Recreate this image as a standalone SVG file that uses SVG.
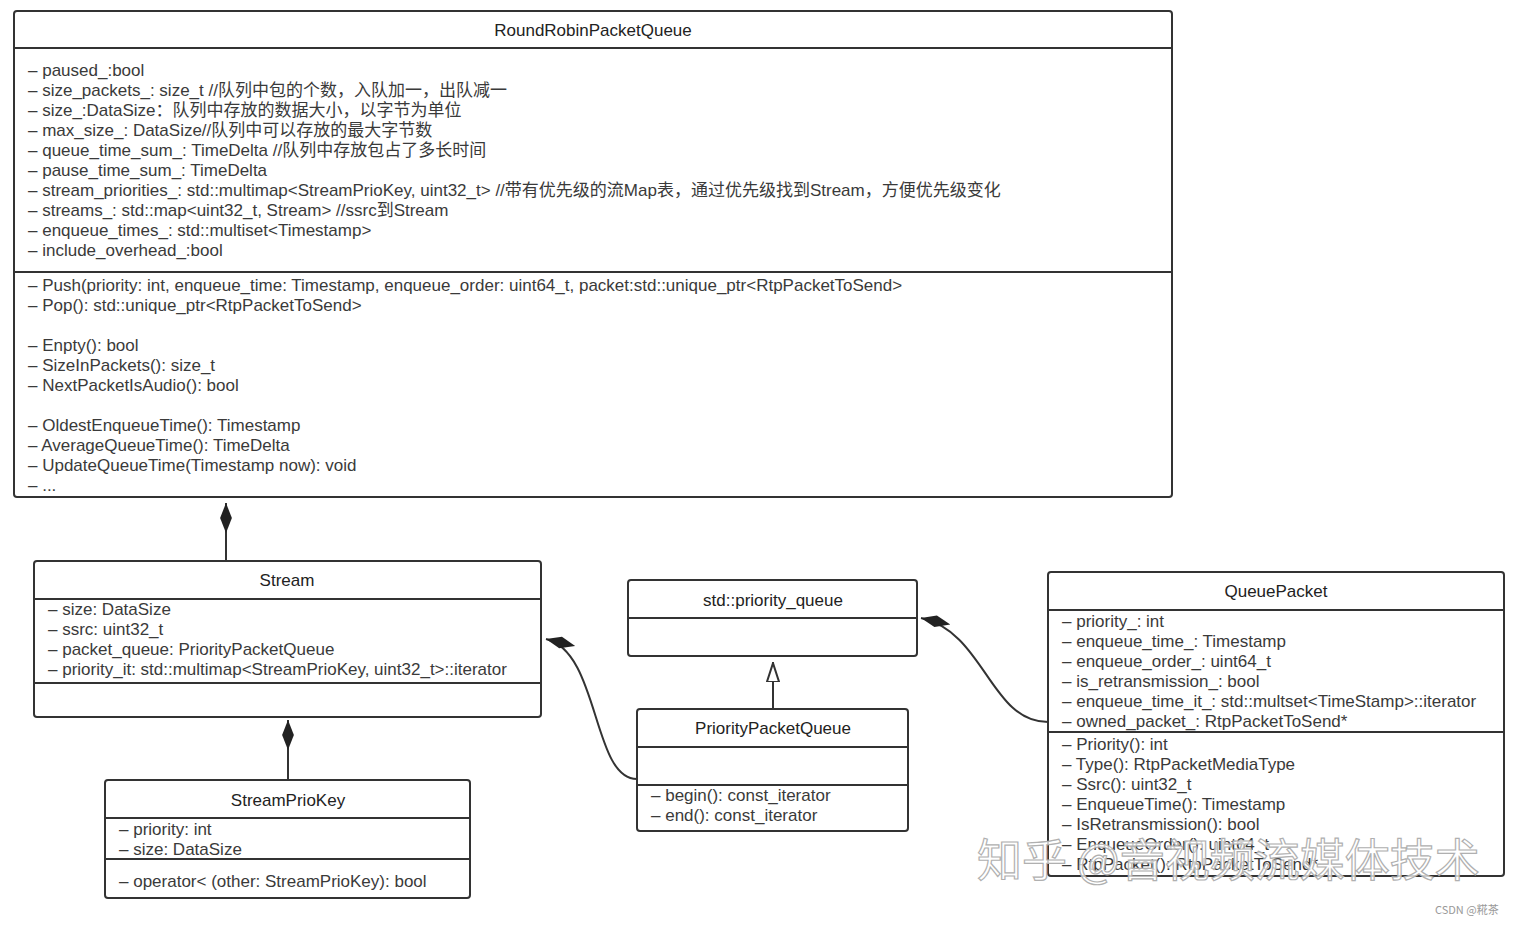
<svg xmlns="http://www.w3.org/2000/svg" width="1518" height="925" viewBox="0 0 1518 925">
<style>
.box{fill:#fff;stroke:#333;stroke-width:2}
.div{stroke:#333;stroke-width:2}
.t{font-family:"Liberation Sans","Noto Sans CJK SC",sans-serif;font-size:17px;fill:#3a3a3a}
.title{font-family:"Liberation Sans","Noto Sans CJK SC",sans-serif;font-size:17px;fill:#222;text-anchor:middle}
.con{fill:none;stroke:#333;stroke-width:2}
</style>
<defs>
<marker id="dia" markerUnits="userSpaceOnUse" markerWidth="30" markerHeight="14" viewBox="0 0 28 12" refX="28" refY="6" orient="auto">
<path d="M0,6 L14,0.5 L28,6 L14,11.5 Z" fill="#222"/>
</marker>
<marker id="tri" markerUnits="userSpaceOnUse" markerWidth="20" markerHeight="14" viewBox="0 0 18 12" refX="18" refY="6" orient="auto">
<path d="M0,0.5 L17,6 L0,11.5 Z" fill="#fff" stroke="#333" stroke-width="1.8"/>
</marker>
</defs>
<rect width="1518" height="925" fill="#fff"/>

<g id="connectors">
<path class="con" d="M226 561 L226 503" marker-end="url(#dia)"/>
<path class="con" d="M288 780 L288 720" marker-end="url(#dia)"/>
<path class="con" d="M773 709 L773 662" marker-end="url(#tri)"/>
<path class="con" d="M637 779 C 592 779, 600 652, 546 639" marker-end="url(#dia)"/>
<path class="con" d="M1048 722 C 990 722, 985 632, 921 618" marker-end="url(#dia)"/>
</g>

<g id="RoundRobinPacketQueue">
<rect class="box" x="14" y="11" width="1158" height="486" rx="3"/>
<line class="div" x1="14" y1="48" x2="1172" y2="48"/>
<line class="div" x1="14" y1="272" x2="1172" y2="272"/>
<text class="title" x="593" y="36">RoundRobinPacketQueue</text>
<text class="t" x="28" y="76">– paused_:bool</text>
<text class="t" x="28" y="96">– size_packets_: size_t //队列中包的个数，入队加一，出队减一</text>
<text class="t" x="28" y="116">– size_:DataSize：队列中存放的数据大小，以字节为单位</text>
<text class="t" x="28" y="136">– max_size_: DataSize//队列中可以存放的最大字节数</text>
<text class="t" x="28" y="156">– queue_time_sum_: TimeDelta //队列中存放包占了多长时间</text>
<text class="t" x="28" y="176">– pause_time_sum_: TimeDelta</text>
<text class="t" x="28" y="196">– stream_priorities_: std::multimap&lt;StreamPrioKey, uint32_t&gt; //带有优先级的流Map表，通过优先级找到Stream，方便优先级变化</text>
<text class="t" x="28" y="216">– streams_: std::map&lt;uint32_t, Stream&gt; //ssrc到Stream</text>
<text class="t" x="28" y="236">– enqueue_times_: std::multiset&lt;Timestamp&gt;</text>
<text class="t" x="28" y="256">– include_overhead_:bool</text>
<text class="t" x="28" y="291">– Push(priority: int, enqueue_time: Timestamp, enqueue_order: uint64_t, packet:std::unique_ptr&lt;RtpPacketToSend&gt;</text>
<text class="t" x="28" y="311">– Pop(): std::unique_ptr&lt;RtpPacketToSend&gt;</text>
<text class="t" x="28" y="351">– Enpty(): bool</text>
<text class="t" x="28" y="371">– SizeInPackets(): size_t</text>
<text class="t" x="28" y="391">– NextPacketIsAudio(): bool</text>
<text class="t" x="28" y="431">– OldestEnqueueTime(): Timestamp</text>
<text class="t" x="28" y="451">– AverageQueueTime(): TimeDelta</text>
<text class="t" x="28" y="471">– UpdateQueueTime(Timestamp now): void</text>
<text class="t" x="28" y="491">– ...</text>
</g>

<g id="Stream">
<rect class="box" x="34" y="561" width="507" height="156" rx="3"/>
<line class="div" x1="34" y1="599" x2="541" y2="599"/>
<line class="div" x1="34" y1="683" x2="541" y2="683"/>
<text class="title" x="287" y="586">Stream</text>
<text class="t" x="48" y="615">– size: DataSize</text>
<text class="t" x="48" y="635">– ssrc: uint32_t</text>
<text class="t" x="48" y="655">– packet_queue: PriorityPacketQueue</text>
<text class="t" x="48" y="675">– priority_it: std::multimap&lt;StreamPrioKey, uint32_t&gt;::iterator</text>
</g>

<g id="StreamPrioKey">
<rect class="box" x="105" y="780" width="365" height="118" rx="3"/>
<line class="div" x1="105" y1="818" x2="470" y2="818"/>
<line class="div" x1="105" y1="859" x2="470" y2="859"/>
<text class="title" x="288" y="806">StreamPrioKey</text>
<text class="t" x="119" y="835">– priority: int</text>
<text class="t" x="119" y="855">– size: DataSize</text>
<text class="t" x="119" y="887">– operator&lt; (other: StreamPrioKey): bool</text>
</g>

<g id="std_priority_queue">
<rect class="box" x="628" y="580" width="289" height="76" rx="3"/>
<line class="div" x1="628" y1="618" x2="917" y2="618"/>
<text class="title" x="773" y="606">std::priority_queue</text>
</g>

<g id="PriorityPacketQueue">
<rect class="box" x="637" y="709" width="271" height="122" rx="3"/>
<line class="div" x1="637" y1="747" x2="908" y2="747"/>
<line class="div" x1="637" y1="785" x2="908" y2="785"/>
<text class="title" x="773" y="734">PriorityPacketQueue</text>
<text class="t" x="651" y="801">– begin(): const_iterator</text>
<text class="t" x="651" y="821">– end(): const_iterator</text>
</g>

<g id="QueuePacket">
<rect class="box" x="1048" y="572" width="456" height="304" rx="3"/>
<line class="div" x1="1048" y1="610" x2="1504" y2="610"/>
<line class="div" x1="1048" y1="732" x2="1504" y2="732"/>
<text class="title" x="1276" y="597">QueuePacket</text>
<text class="t" x="1062" y="627">– priority_: int</text>
<text class="t" x="1062" y="647">– enqueue_time_: Timestamp</text>
<text class="t" x="1062" y="667">– enqueue_order_: uint64_t</text>
<text class="t" x="1062" y="687">– is_retransmission_: bool</text>
<text class="t" x="1062" y="707">– enqueue_time_it_: std::multset&lt;TimeStamp&gt;::iterator</text>
<text class="t" x="1062" y="727">– owned_packet_: RtpPacketToSend*</text>
<text class="t" x="1062" y="750">– Priority(): int</text>
<text class="t" x="1062" y="770">– Type(): RtpPacketMediaType</text>
<text class="t" x="1062" y="790">– Ssrc(): uint32_t</text>
<text class="t" x="1062" y="810">– EnqueueTime(): Timestamp</text>
<text class="t" x="1062" y="830">– IsRetransmission(): bool</text>
<text class="t" x="1062" y="850">– EnqueueOrder(): uint64_t</text>
<text class="t" x="1062" y="870">– RtpPacket(): RtpPacketToSend*</text>
</g>

<g id="watermark">
<text x="977" y="877" font-family="'Noto Sans CJK SC',sans-serif" font-size="45" fill="#ffffff" fill-opacity="0.75" stroke="#b0b0b0" stroke-width="1.2">知乎 @音视频流媒体技术</text>
<text x="1435" y="914" font-family="'Noto Sans CJK SC',sans-serif" font-size="11" fill="#999">CSDN @糀茶</text>
</g>
</svg>
